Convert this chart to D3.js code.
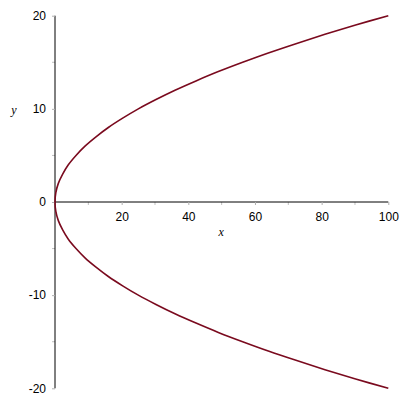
<!DOCTYPE html>
<html lang="en">
<head>
<meta charset="UTF-8">
<script src="https://d3js.org/d3.v7.min.js"></script>
<style>
  body { margin: 0; background: #fff; }
  svg { display: block; }
  .tick text { font-family: "Liberation Sans", "DejaVu Sans", sans-serif; font-size: 12px; fill: #000; }
</style>
</head>
<body>
<script>
// points, ordered along y from bottom to top
const curveY = [-20, -19, -18, -17, -16, -15, -14, -13, -12, -11, -10, -9, -8, -7, -6, -5, -4, -3, -2, -1,
                0, 1, 2, 3, 4, 5, 6, 7, 8, 9, 10, 11, 12, 13, 14, 15, 16, 17, 18, 19, 20];
const curveX = [100, 90.2, 81, 72.3, 64, 56.3, 49, 42.3, 36, 30.3, 25, 20.3, 16, 12.3, 9, 6.3, 4, 2.3, 1, 0.25,
                0, 0.25, 1, 2.3, 4, 6.3, 9, 12.3, 16, 20.3, 25, 30.3, 36, 42.3, 49, 56.3, 64, 72.3, 81, 90.2, 100];
const xTicks = [20, 40, 60, 80, 100];
const xMinor = [10, 30, 50, 70, 90];
const yTicks = [-20, -10, 0, 10, 20];
const yMinor = [-15, -5, 5, 15];

const width = 401, height = 411;
const svg = d3.select("body").append("svg")
    .attr("width", width)
    .attr("height", height);

const x = d3.scaleLinear().domain([0, 100]).range([55, 388.3]);
const y = d3.scaleLinear().domain([-20, 20]).range([388.3, 15.7]);

// minor ticks
svg.append("g").selectAll("line").data(xMinor).join("line")
    .attr("x1", d => x(d)).attr("x2", d => x(d))
    .attr("y1", y(0)).attr("y2", y(0) + 3)
    .attr("stroke", "#c0c0c0");
svg.append("g").selectAll("line").data(yMinor).join("line")
    .attr("x1", x(0) - 3).attr("x2", x(0))
    .attr("y1", d => y(d)).attr("y2", d => y(d))
    .attr("stroke", "#c0c0c0");

// x axis through y = 0
const gx = svg.append("g")
    .attr("transform", `translate(0,${y(0)})`)
    .call(d3.axisBottom(x).tickValues(xTicks).tickFormat(d => String(d))
        .tickSize(3).tickPadding(7).tickSizeOuter(0));
gx.select(".domain").attr("stroke", "#000").attr("d", `M${x(0)},0H${x(100)}`);
gx.selectAll(".tick line").attr("stroke", "#b0b0b0");

// y axis through x = 0
const gy = svg.append("g")
    .attr("transform", `translate(${x(0)},0)`)
    .call(d3.axisLeft(y).tickValues(yTicks).tickFormat(d => String(d))
        .tickSize(3).tickPadding(6).tickSizeOuter(0));
gy.select(".domain").attr("stroke", "#000").attr("d", `M0,${y(-20)}V${y(20)}`);
gy.selectAll(".tick line").attr("stroke", "#b0b0b0");

// axis titles
svg.append("text")
    .attr("x", x(50) - 0.5).attr("y", y(0) + 34)
    .attr("text-anchor", "middle")
    .attr("font-family", "Liberation Serif, DejaVu Serif, serif")
    .attr("font-style", "italic")
    .attr("font-size", 12)
    .text("x");
svg.append("text")
    .attr("x", 14).attr("y", y(10) + 5)
    .attr("text-anchor", "middle")
    .attr("font-family", "Liberation Serif, DejaVu Serif, serif")
    .attr("font-style", "italic")
    .attr("font-size", 12)
    .text("y");

// curve
const pts = curveY.map((v, i) => [curveX[i], v]);
const line = d3.line()
    .x(d => x(d[0]))
    .y(d => y(d[1]))
    .curve(d3.curveCatmullRom);
svg.append("path")
    .datum(pts)
    .attr("d", line)
    .attr("fill", "none")
    .attr("stroke", "#7a0a1e")
    .attr("stroke-width", 1.6);
</script>
</body>
</html>
